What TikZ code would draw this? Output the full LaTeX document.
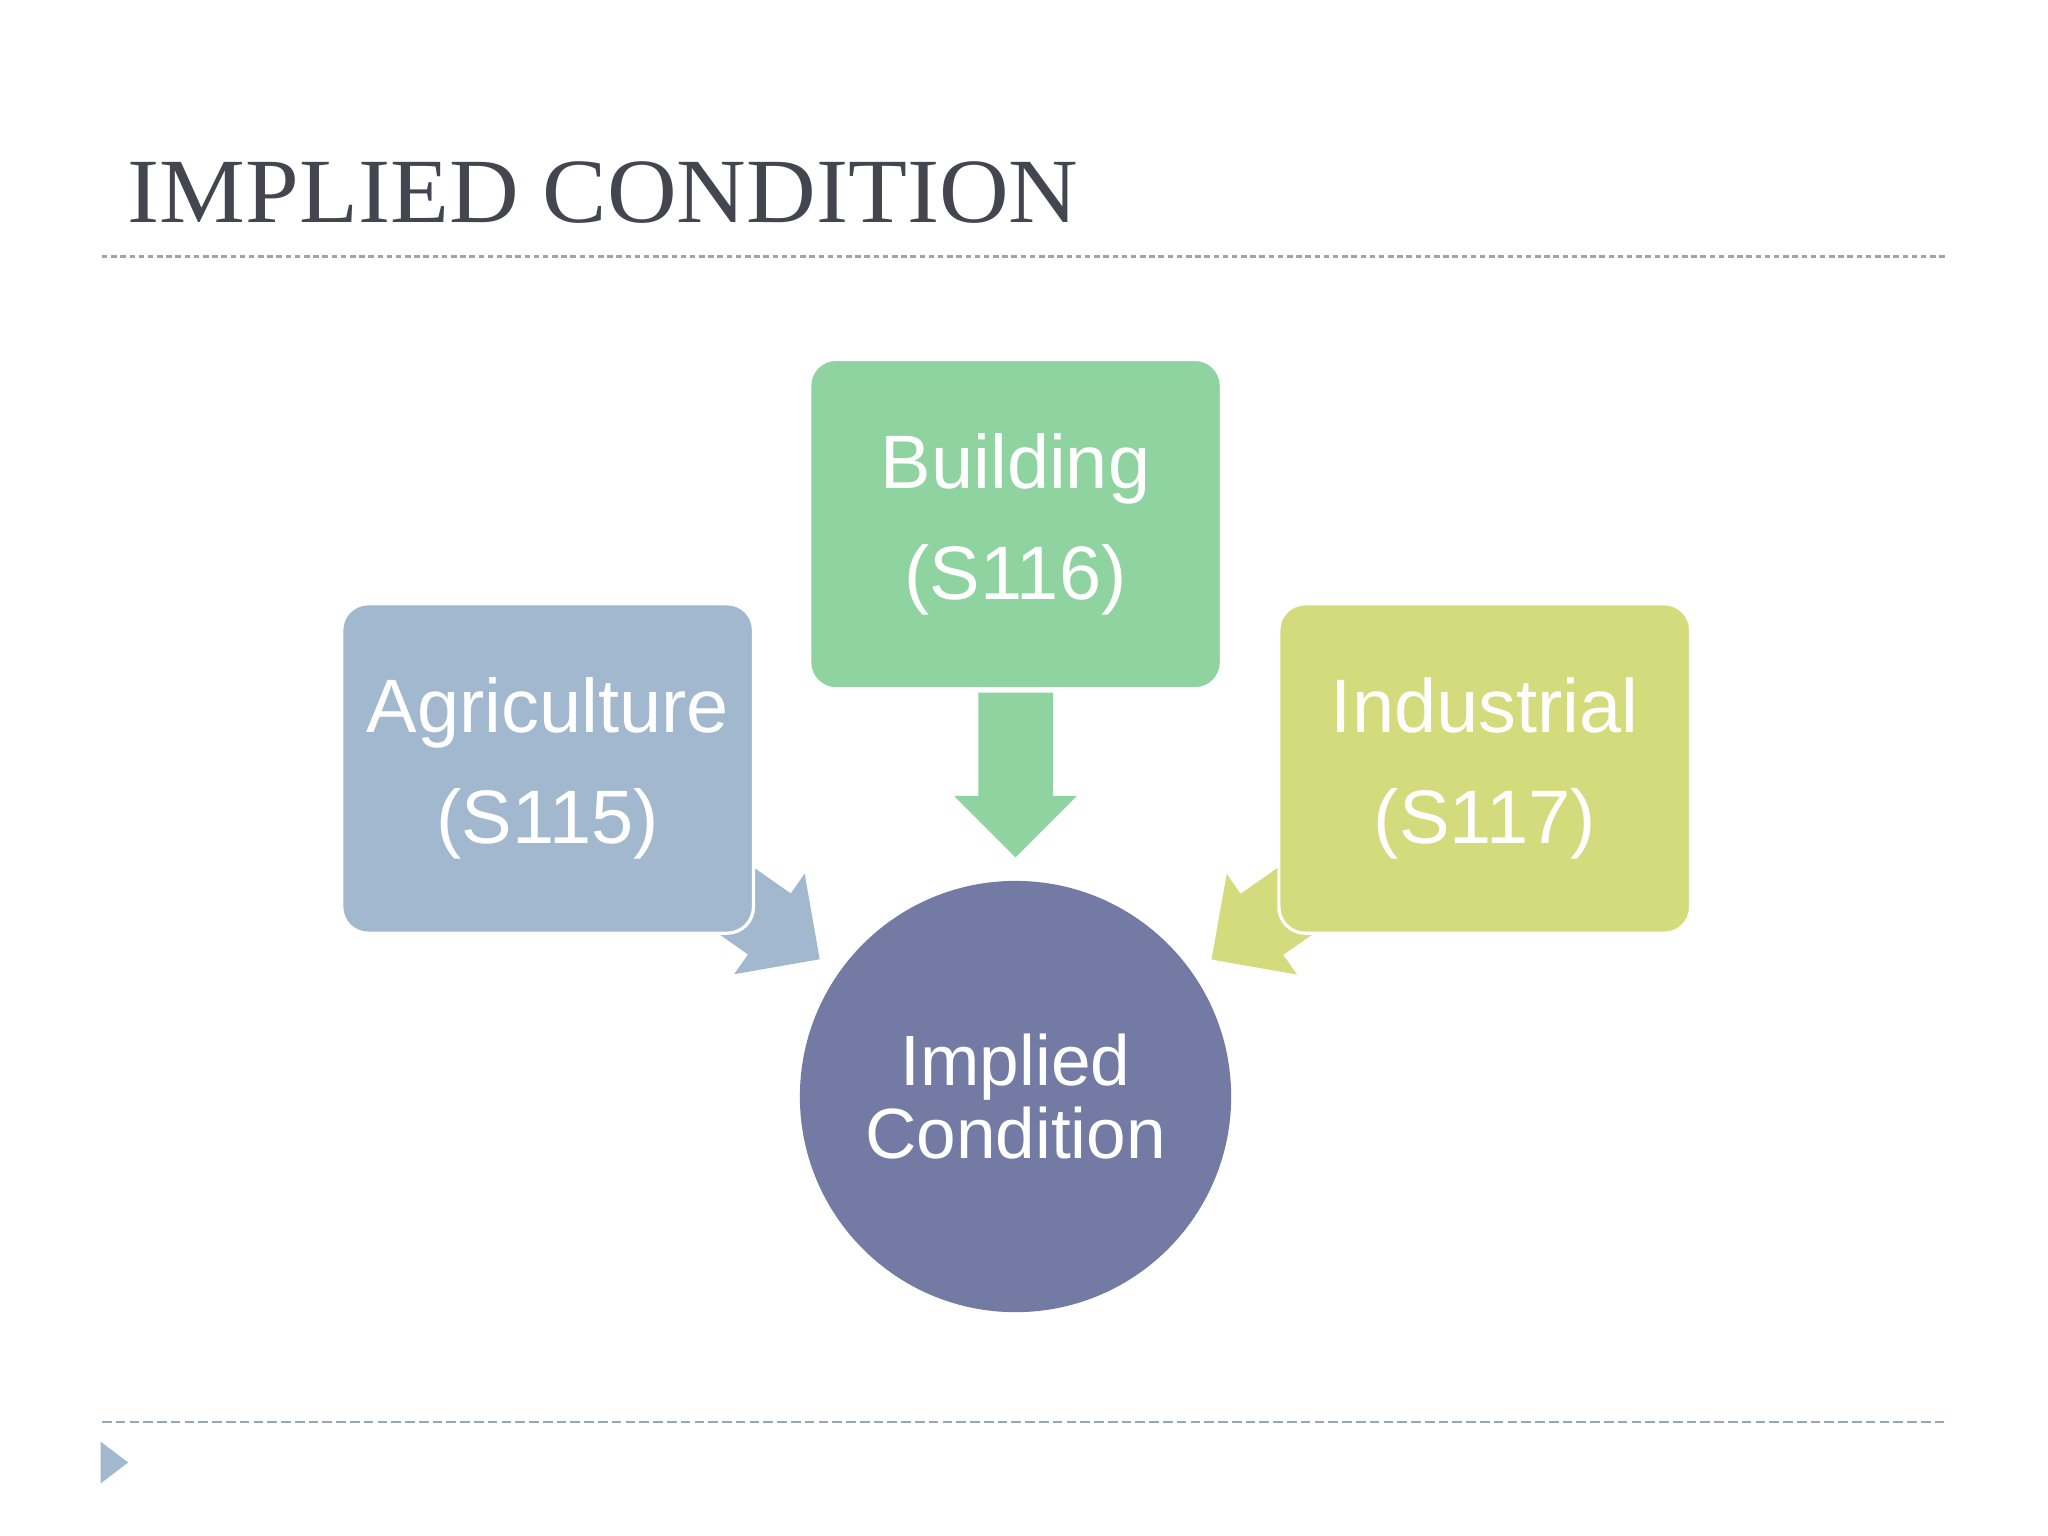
\documentclass[tikz,border=0pt]{standalone}
\usepackage{fontspec}
\setmainfont{Liberation Sans}
\newfontfamily\titlefont[FakeStretch=1.05]{Liberation Serif}
\usetikzlibrary{calc,backgrounds}
\definecolor{agriblue}{HTML}{A1B8CE}
\definecolor{buildgreen}{HTML}{8FD3A0}
\definecolor{indusgreen}{HTML}{D3DB7D}
\definecolor{hubblue}{HTML}{737BA5}
\definecolor{titlegray}{HTML}{45454F}
\definecolor{rulegray}{HTML}{A2A2A8}
\definecolor{ruleblue}{HTML}{97A8BA}
\tikzstyle{area}=[rectangle, draw=white, line width=0.7pt, rounded corners=2mm,
  minimum width=31.5mm, minimum height=25.2mm, inner sep=0pt, text=white,
  align=center, font=\fontsize{16.5}{24.2}\selectfont]
\tikzstyle{hub}=[circle, fill=hubblue, minimum size=33mm, inner sep=0pt,
  text=white, align=center, font=\fontsize{15.5}{15.7}\selectfont]
\newcommand{\area}{\node[area]}
% block arrow from node #1 towards node #2, fill colour #3
\newcommand{\feedarrow}[3]{%
  \fill[#3] let \p1=($(#2.center)-(#1.center)$), \n1={atan2(\y1,\x1)} in
    ($(#2.center)!18.3mm!(#1.center)$) -- ++(\n1+135:6.65mm) -- ++(\n1-90:1.85mm)
    -- ++(\n1+180:7.9mm) -- ++(\n1-90:5.7mm) -- ++(\n1:7.9mm)
    -- ++(\n1-90:1.85mm) -- cycle;}

\begin{document}
\begin{tikzpicture}[x=0.1mm, y=-0.1mm]
\useasboundingbox (0,0) rectangle (1567,1175);
% title and rules
\node[anchor=base west, inner sep=0pt, text=titlegray,
  font=\titlefont\fontsize{20}{24}\selectfont] (title) at (97,170) {IMPLIED CONDITION};
\draw[rulegray, line width=0.6pt, dash pattern=on 1.2pt off 0.8pt] (78,196) -- (1490,196);
\draw[ruleblue, line width=0.55pt, dash pattern=on 2.1pt off 0.9pt] (78,1088) -- (1490,1088);
\fill[agriblue] (77,1103) -- (98,1119) -- (77,1135) -- cycle;

\area[fill=buildgreen] (build) at (777,401) {Building\\(S116)};
\area[fill=agriblue]   (agri)  at (419,588) {Agriculture\\(S115)};
\area[fill=indusgreen] (indus) at (1136,588) {Industrial\\(S117)};
\node[hub] (impl) at (777,839) {Implied\\Condition};

\begin{pgfonlayer}{background}
\fill[white] (0,0) rectangle (1567,1175);
\feedarrow{build}{impl}{buildgreen}
\feedarrow{agri}{impl}{agriblue}
\feedarrow{indus}{impl}{indusgreen}
\end{pgfonlayer}
\end{tikzpicture}
\end{document}
